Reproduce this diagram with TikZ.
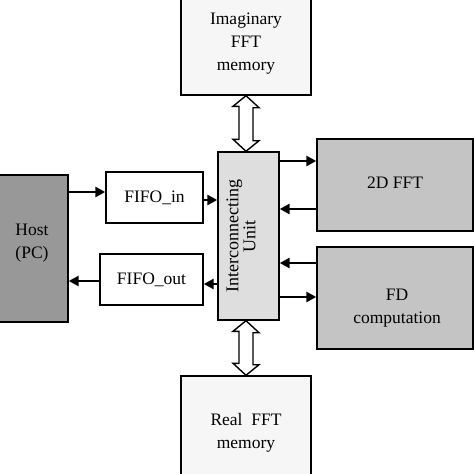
\documentclass[tikz,border=0pt]{standalone}
\usepackage{fontspec}
\setmainfont{Liberation Serif}
\usetikzlibrary{arrows.meta}
\definecolor{hostgray}{RGB}{152,152,152}
\definecolor{midgray}{RGB}{196,196,196}
\definecolor{iugray}{RGB}{222,222,222}
\definecolor{memgray}{RGB}{246,246,246}
\tikzset{
  blk/.style={draw=black, line width=1.4pt, rectangle, inner sep=0pt, align=center,
    font=\fontsize{17.5}{23}\selectfont},
  arr/.style={line width=2.6pt, -{Triangle[length=10pt,width=10pt]}},
  dbl/.style={draw=black, line width=1.4pt, fill=white, line join=miter},
  lbl/.style={align=center, font=\fontsize{17.5}{23}\selectfont, inner sep=0pt}
}
\begin{document}
\begin{tikzpicture}[x=1pt,y=-1pt]
\useasboundingbox (0,0) rectangle (474,474);
\clip (0,0) rectangle (474,474);
% boxes
\node[blk, fill=memgray, minimum width=130pt, minimum height=105pt] (imag) at (246,42.5) {};
\node[lbl] (imagt) at (246,44) {Imaginary\\FFT\\memory};
\node[blk, fill=iugray, minimum width=61pt, minimum height=168pt] (iu) at (248.5,236) {};
\node[lbl, rotate=90, font=\fontsize{18}{17}\selectfont] (iut) at (241,236) {Interconnecting\\Unit};
\node[blk, fill=memgray, minimum width=130pt, minimum height=116pt] (real) at (246,434) {};
\node[lbl] (realt) at (246,433) {Real\ \ FFT\\memory};
\node[blk, fill=midgray, minimum width=156pt, minimum height=92pt] (fft) at (395,185) {};
\node[lbl] (fftt) at (395,183) {2D FFT};
\node[blk, fill=midgray, minimum width=156pt, minimum height=102pt] (fd) at (395,298) {};
\node[lbl] (fdt) at (397,308) {FD\\computation};
\node[blk, fill=hostgray, minimum width=73pt, minimum height=147pt] (host) at (31.5,248.5) {};
\node[lbl] (hostt) at (32,243) {Host\\(PC)};
\node[blk, fill=white, minimum width=97pt, minimum height=51pt] (fin) at (154.5,197.5) {FIFO\_in};
\node[blk, fill=white, minimum width=103pt, minimum height=51pt] (fout) at (151.5,279.5) {FIFO\_out};
% thin arrows
\draw[arr] (host.east |- 0,192) -- (fin.west |- 0,192);
\draw[arr] (fin.east |- 0,200) -- (iu.west |- 0,200);
\draw[arr] (iu.west |- 0,284) -- (fout.east |- 0,284);
\draw[arr] (fout.west |- 0,281) -- (host.east |- 0,281);
\draw[arr] (iu.east |- 0,161) -- (fft.west |- 0,161);
\draw[arr] (fft.west |- 0,209) -- (iu.east |- 0,209);
\draw[arr] (fd.west |- 0,263) -- (iu.east |- 0,263);
\draw[arr] (iu.east |- 0,297) -- (fd.west |- 0,297);
% block double arrows
\draw[dbl] (imag.south) -- ++(13,12) -- ++(-6,0) -- ++(0,33) -- ++(6,0)
  -- (iu.north -| imag.south) -- ++(-13,-12) -- ++(6,0) -- ++(0,-33) -- ++(-6,0) -- cycle;
\draw[dbl] (iu.south -| real.north) -- ++(13,12) -- ++(-6,0) -- ++(0,32) -- ++(6,0)
  -- (real.north) -- ++(-13,-12) -- ++(6,0) -- ++(0,-32) -- ++(-6,0) -- cycle;
\end{tikzpicture}
\end{document}
